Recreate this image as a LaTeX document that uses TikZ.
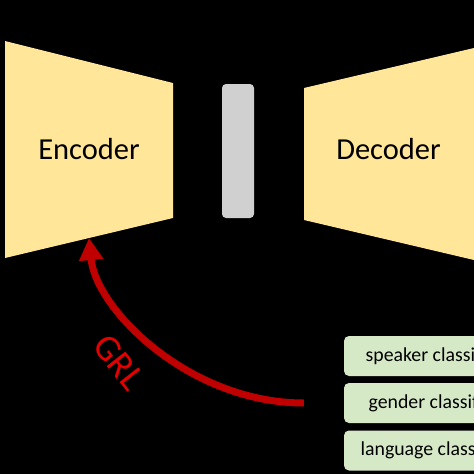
\documentclass[tikz,border=0pt]{standalone}
\usepackage{fontspec}
\setmainfont{Carlito}
\usetikzlibrary{calc,arrows.meta}
\definecolor{bg}{RGB}{0,0,0}
\definecolor{coder}{RGB}{255,230,153}
\definecolor{latent}{RGB}{208,208,208}
\definecolor{cls}{RGB}{214,233,198}
\definecolor{grl}{RGB}{192,0,0}
\definecolor{grltext}{RGB}{228,0,0}
\tikzset{
  coderlabel/.style={font=\fontsize{30.5}{30.5}\selectfont,text=black},
  latentbox/.style={fill=latent,rounded corners=4pt,minimum width=32pt,minimum height=134pt,inner sep=0pt},
  clsbox/.style={fill=cls,rounded corners=5pt,minimum width=180pt,minimum height=40pt,
    font=\fontsize{19.8}{19.8}\selectfont,inner sep=0pt},
  grlarrow/.style={grl,line width=7pt,-{Triangle[length=22pt,width=23pt]}},
}
\begin{document}
\begin{tikzpicture}[x=1pt,y=-1pt]
  \fill[bg] (0,0) rectangle (474,474);
  \useasboundingbox (0,0) rectangle (474,474);
  \clip (0,0) rectangle (474,474);
  % encoder and decoder blocks
  \fill[coder] (5,41) -- (173,83) -- (173,218) -- (5,258) -- cycle;
  \fill[coder] (304,88) -- (474,48) -- (474,260) -- (304,220) -- cycle;
  \node[coderlabel] (enc) at (89,149) {Encoder};
  \node[coderlabel] (dec) at (388.5,149) {Decoder};
  \node[latentbox] (z) at (238,151) {};
  % classifiers
  \node[clsbox] (spk) at (434,356) {speaker classifier};
  \node[clsbox] (gen) at (434,403) {gender classifier};
  \node[clsbox] (lan) at (434,450.5) {language classifier};
  % gradient reversal
  \coordinate (grlstart) at ($(gen.west)+(-40,0)$);
  \coordinate (grlend) at (89,238);
  \draw[grlarrow] (grlstart) .. controls (190,403) and (96,310) .. (grlend);
  \node[grltext,font=\fontsize{37}{37}\selectfont,rotate=-52] (grl) at (119,362) {GRL};
\end{tikzpicture}
\end{document}
